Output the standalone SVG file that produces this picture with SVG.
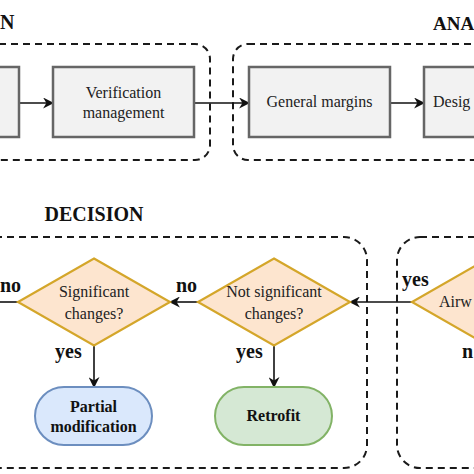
<svg xmlns="http://www.w3.org/2000/svg" width="474" height="474" viewBox="0 0 474 474">
<defs>
<style>
text{font-family:'Liberation Serif','Times New Roman',Tinos,'DejaVu Serif',serif}
.grp{fill:none;stroke:#1a1a1a;stroke-width:2;stroke-dasharray:7 5}
.box{fill:#f2f2f2;stroke:#666;stroke-width:2.5}
.dia{fill:#fde5cf;stroke:#d4a62a;stroke-width:2.2}
.t{font-size:16px;fill:#222}
.b{font-weight:bold;fill:#111}
.lbl{font-size:20px}
.ttl{font-size:20px}
.edge{fill:none;stroke:#111;stroke-width:1.6}
</style>
<marker id="arr" viewBox="0 0 10 10" refX="9" refY="5" markerWidth="11" markerHeight="11" markerUnits="userSpaceOnUse" orient="auto">
<path d="M0,0 L10,5 L0,10 L3,5 Z" fill="#111"/>
</marker>
</defs>
<rect width="474" height="474" fill="#fff"/>

<g id="titles" font-family="Liberation Serif, Times New Roman, serif">
<text class="b ttl" x="0" y="29">N</text>
<text class="b" x="433" y="30" font-size="19">ANA</text>
<text class="b ttl" x="94" y="221" text-anchor="middle">DECISION</text>
</g>

<g id="groups">
<rect class="grp" x="-100" y="44" width="310" height="116" rx="15"/>
<rect class="grp" x="233" y="44" width="300" height="116" rx="15"/>
<rect class="grp" x="-100" y="237" width="467" height="231" rx="23"/>
<rect class="grp" x="397" y="237" width="200" height="231" rx="23"/>
</g>

<g id="connectors" font-family="Liberation Serif, Times New Roman, serif">
<line class="edge" x1="19" y1="103" x2="53" y2="103" marker-end="url(#arr)"/>
<line class="edge" x1="194" y1="103" x2="249" y2="103" marker-end="url(#arr)"/>
<line class="edge" x1="390" y1="103" x2="424" y2="103" marker-end="url(#arr)"/>
<line class="edge" x1="412" y1="302" x2="350" y2="302" marker-end="url(#arr)"/>
<line class="edge" x1="198" y1="302" x2="170" y2="302" marker-end="url(#arr)"/>
<line class="edge" x1="18" y1="302" x2="-5" y2="302"/>
<line class="edge" x1="94" y1="345" x2="94" y2="387" marker-end="url(#arr)"/>
<line class="edge" x1="274" y1="345" x2="274" y2="387" marker-end="url(#arr)"/>
<text class="b lbl" x="402" y="286">yes</text>
<text class="b lbl" x="176" y="292">no</text>
<text class="b lbl" x="0" y="292">no</text>
<text class="b lbl" x="55" y="358">yes</text>
<text class="b lbl" x="236" y="358">yes</text>
<text class="b lbl" x="462" y="358">n</text>
</g>

<g id="prev">
<rect class="box" x="-100" y="67" width="119" height="70"/>
</g>
<g id="verification" font-family="Liberation Serif, Times New Roman, serif" text-anchor="middle">
<rect class="box" x="53" y="67" width="141" height="70"/>
<text class="t" x="123.5" y="98">Verification</text>
<text class="t" x="123.5" y="118">management</text>
</g>
<g id="margins" font-family="Liberation Serif, Times New Roman, serif" text-anchor="middle">
<rect class="box" x="249" y="67" width="141" height="70"/>
<text class="t" x="319.5" y="107">General margins</text>
</g>
<g id="design" font-family="Liberation Serif, Times New Roman, serif">
<rect class="box" x="424" y="67" width="141" height="70"/>
<text class="t" x="433" y="107">Desig</text>
</g>

<g id="significant" font-family="Liberation Serif, Times New Roman, serif" text-anchor="middle">
<polygon class="dia" points="94,258.5 170,302 94,345.5 18,302"/>
<text class="t" x="94" y="297">Significant</text>
<text class="t" x="94" y="319">changes?</text>
</g>
<g id="notsignificant" font-family="Liberation Serif, Times New Roman, serif" text-anchor="middle">
<polygon class="dia" points="274,258.5 350,302 274,345.5 198,302"/>
<text class="t" x="274" y="297">Not significant</text>
<text class="t" x="274" y="319">changes?</text>
</g>
<g id="airworthiness" font-family="Liberation Serif, Times New Roman, serif">
<polygon class="dia" points="488,258.5 564,302 488,345.5 412,302"/>
<text class="t" x="439" y="307">Airw</text>
</g>

<g id="partial" font-family="Liberation Serif, Times New Roman, serif" text-anchor="middle">
<rect x="35" y="387" width="117" height="58" rx="29" ry="29" fill="#dae8fc" stroke="#6c8ebf" stroke-width="2"/>
<text class="b" x="93.5" y="412" font-size="16">Partial</text>
<text class="b" x="93.5" y="432" font-size="16">modification</text>
</g>
<g id="retrofit" font-family="Liberation Serif, Times New Roman, serif" text-anchor="middle">
<rect x="215" y="387" width="117" height="58" rx="29" ry="29" fill="#d5e8d4" stroke="#82b366" stroke-width="2"/>
<text class="b" x="273.5" y="421" font-size="16">Retrofit</text>
</g>
</svg>
